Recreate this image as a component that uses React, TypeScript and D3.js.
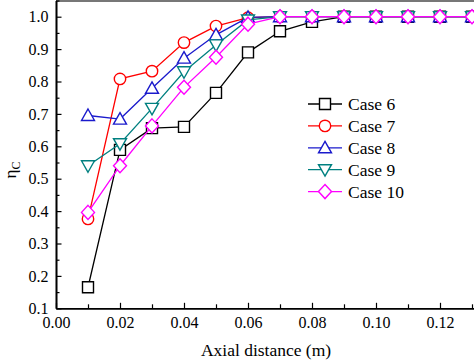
import { useEffect, useRef } from "react";
import * as d3 from "d3";

// axial positions (m)
const xs = [0.01, 0.02, 0.03, 0.04, 0.05, 0.06, 0.07, 0.08, 0.09, 0.10, 0.11, 0.12, 0.13];

const case6  = [0.165, 0.589, 0.656, 0.66, 0.765, 0.89, 0.955, 0.984, 1.0, 1.0, 1.0, 1.0, 1.0];
const case7  = [0.376, 0.808, 0.832, 0.92, 0.971, 0.997, 1.0, 1.0, 1.0, 1.0, 1.0, 1.0, 1.0];
const case8  = [0.695, 0.684, 0.779, 0.872, 0.944, 0.998, 1.0, 1.0, 1.0, 1.0, 1.0, 1.0, 1.0];
const case9  = [0.54, 0.608, 0.717, 0.83, 0.913, 0.99, 1.0, 1.0, 1.0, 1.0, 1.0, 1.0, 1.0];
const case10 = [0.396, 0.54, 0.663, 0.782, 0.875, 0.977, 1.0, 1.0, 1.0, 1.0, 1.0, 1.0, 1.0];

const seriesNames  = ["Case 6", "Case 7", "Case 8", "Case 9", "Case 10"];
const seriesValues = [case6, case7, case8, case9, case10];
const seriesColors = ["#000000", "#ff0000", "#1a1acc", "#008080", "#ff00ff"];
const seriesShapes = ["square", "circle", "triangleUp", "triangleDown", "diamond"];

const xTicks = [0, 0.02, 0.04, 0.06, 0.08, 0.10, 0.12];
const yTicks = [0.1, 0.2, 0.3, 0.4, 0.5, 0.6, 0.7, 0.8, 0.9, 1.0];

const W = 474;
const H = 362;
const M = { left: 56, right: 476, top: 0.5, bottom: 308.3 };
const FONT = "Liberation Serif, DejaVu Serif, Times New Roman, serif";

function markerPath(shape: string): string {
  switch (shape) {
    case "square":
      return "M-5.5,-5.5H5.5V5.5H-5.5Z";
    case "circle":
      return d3.symbol(d3.symbolCircle, Math.PI * 5.7 * 5.7)() as string;
    case "triangleUp":
      return "M0,-6.5L6.5,5L-6.5,5Z";
    case "triangleDown":
      return "M0,6.5L6.5,-5L-6.5,-5Z";
    default:
      return "M0,-7L6.5,0L0,7L-6.5,0Z";
  }
}

export default function App() {
  const svgRef = useRef<SVGSVGElement | null>(null);

  useEffect(() => {
    if (!svgRef.current) return;
    const svg = d3.select(svgRef.current);
    svg.selectAll("*").remove();

    const x = d3.scaleLinear().domain([0, 0.13125]).range([M.left, M.right]);
    const y = d3.scaleLinear().domain([0.1, 1.05]).range([M.bottom, M.top]);

    svg.append("rect").attr("width", W).attr("height", H).attr("fill", "#fff");

    // top frame
    svg.append("line")
      .attr("x1", M.left).attr("x2", W)
      .attr("y1", 1).attr("y2", 1)
      .attr("stroke", "#777").attr("stroke-width", 2.2);

    const styleAxis = (sel: any) => {
      sel.attr("font-family", null).attr("font-size", null);
      sel.selectAll("text")
        .attr("fill", "#000")
        .style("font-size", "16px")
        .style("font-family", FONT);
      sel.selectAll("line").attr("stroke", "#000").attr("stroke-width", 1.2);
      sel.select(".domain").attr("stroke", "#000").attr("stroke-width", 1.6);
    };

    // x axis (ticks inward)
    svg.append("g")
      .attr("transform", `translate(0,${M.bottom})`)
      .call(d3.axisBottom(x).tickValues(d3.range(0.01, 0.131, 0.02)).tickSize(-4).tickSizeOuter(0).tickFormat(() => ""))
      .call(styleAxis);
    svg.append("g")
      .attr("transform", `translate(0,${M.bottom})`)
      .call(d3.axisBottom(x).tickValues(xTicks).tickSize(-5.5).tickSizeOuter(0).tickPadding(8)
        .tickFormat(d => d3.format(".2f")(d as number)))
      .call(styleAxis);

    // y axis (ticks inward)
    svg.append("g")
      .attr("transform", `translate(${M.left},0)`)
      .call(d3.axisLeft(y).tickValues(d3.range(0.15, 1.06, 0.1)).tickSize(-3.5).tickSizeOuter(0).tickFormat(() => ""))
      .call(styleAxis);
    svg.append("g")
      .attr("transform", `translate(${M.left},0)`)
      .call(d3.axisLeft(y).tickValues(yTicks).tickSize(-5.5).tickSizeOuter(0).tickPadding(7.5)
        .tickFormat(d => d3.format(".1f")(d as number)))
      .call(styleAxis);

    // series
    const line = d3.line<number>().x((_, i) => x(xs[i])).y(d => y(d));
    seriesValues.forEach((vals, s) => {
      const g = svg.append("g");
      g.append("path")
        .attr("d", line(vals))
        .attr("fill", "none")
        .attr("stroke", seriesColors[s])
        .attr("stroke-width", 1.3);
      g.selectAll("path.mk")
        .data(vals)
        .join("path")
        .attr("class", "mk")
        .attr("d", markerPath(seriesShapes[s]))
        .attr("transform", (d, i) => `translate(${x(xs[i])},${y(d)})`)
        .attr("fill", "#fff")
        .attr("stroke", seriesColors[s])
        .attr("stroke-width", 1.4);
    });

    // legend
    const lg = svg.append("g").attr("transform", "translate(308,104)");
    seriesNames.forEach((name, s) => {
      const row = lg.append("g").attr("transform", `translate(0,${s * 21.9})`);
      row.append("line")
        .attr("x1", 0).attr("x2", 34)
        .attr("stroke", seriesColors[s]).attr("stroke-width", 1.3);
      row.append("path")
        .attr("d", markerPath(seriesShapes[s]))
        .attr("transform", "translate(17,0)")
        .attr("fill", "#fff")
        .attr("stroke", seriesColors[s])
        .attr("stroke-width", 1.4);
      row.append("text")
        .attr("x", 40)
        .attr("dy", "0.35em")
        .style("font-size", "17.5px")
        .style("font-family", FONT)
        .attr("fill", "#000")
        .text(name);
    });

    // axis titles
    svg.append("text")
      .attr("x", (M.left + M.right) / 2)
      .attr("y", 356)
      .attr("text-anchor", "middle")
      .style("font-size", "17.5px")
      .style("font-family", FONT)
      .attr("fill", "#000")
      .text("Axial distance (m)");

    const yt = svg.append("text")
      .attr("transform", "translate(15.5,170) rotate(-90)")
      .attr("text-anchor", "middle")
      .style("font-size", "17px")
      .style("font-family", FONT)
      .attr("fill", "#000");
    yt.append("tspan").text("η");
    yt.append("tspan").style("font-size", "12px").attr("dy", 4).text("C");
  }, []);

  return (
    <svg
      ref={svgRef}
      width={W}
      height={H}
      style={{ position: "absolute", left: 0, top: 0, display: "block" }}
    />
  );
}
